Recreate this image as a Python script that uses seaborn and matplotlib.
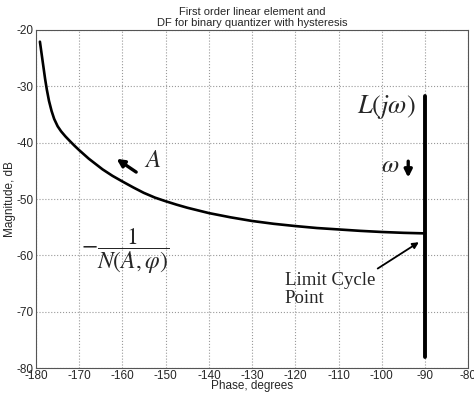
import numpy as np
import pandas as pd
import seaborn as sns
import matplotlib.pyplot as plt

# -1/N(A, phi) curve
df_phase = [-179.1, -178.7, -178.3, -177.9, -177.5, -177.0, -176.4, -175.8, -175.0,
            -174.2, -173.2, -172.2, -171.1, -170.0, -167.8, -164.6, -162.3, -160.0,
            -157.5, -155.1, -152.5, -150.0, -147.5, -145.0, -140.0, -135.0, -130.0,
            -125.0, -120.0, -115.0, -110.0, -105.0, -100.0, -95.0, -90.0]
df_mag = [-22.1, -24.3, -26.5, -28.7, -30.6, -32.6, -34.4, -35.8, -37.1,
          -38.0, -38.9, -39.7, -40.55, -41.35, -42.85, -44.75, -45.9, -46.9,
          -47.95, -48.9, -49.75, -50.4, -51.0, -51.55, -52.5, -53.25, -53.9,
          -54.4, -54.8, -55.15, -55.4, -55.65, -55.85, -56.0, -56.1]

# L(jw) of the first order element, phase stays at -90
lin_phase = [-90.0, -90.0]
lin_mag = [-31.7, -78.0]

xticks = list(range(-180, -79, 10))
yticks = list(range(-80, -19, 10))

curve_df = pd.DataFrame({'phase': df_phase, 'mag': df_mag})
lin_df = pd.DataFrame({'phase': lin_phase, 'mag': lin_mag})

sns.set_style('white')
plt.rcParams['font.family'] = ['Liberation Sans', 'DejaVu Sans']
plt.rcParams['mathtext.fontset'] = 'stix'
plt.rcParams['axes.unicode_minus'] = False

fig = plt.figure(figsize=(4.74, 3.98), dpi=100)
ax = fig.add_axes([0.076, 0.075, 0.912, 0.850])

sns.lineplot(data=curve_df, x='phase', y='mag', color='black', linewidth=1.9,
             sort=False, estimator=None, ax=ax)
sns.lineplot(data=lin_df, x='phase', y='mag', color='black', linewidth=2.8,
             sort=False, estimator=None, ax=ax)

ax.set_xlim(-180, -80)
ax.set_ylim(-80, -20)
ax.set_xticks(xticks)
ax.set_yticks(yticks)
ax.tick_params(direction='in', labelsize=8.5, length=3, color='#444444', pad=2)
ax.tick_params(axis='x', pad=1)
ax.grid(True, linestyle=':', color='#999999', linewidth=0.8)
for s in ax.spines.values():
    s.set_color('#555555')
    s.set_linewidth(0.8)

ax.set_xlabel('Phase, degrees', fontsize=8.5, labelpad=-1)
ax.set_ylabel('Magnitude, dB', fontsize=8.5, labelpad=0)
ax.set_title('First order linear element and\nDF for binary quantizer with hysteresis',
             fontsize=8, pad=3, linespacing=1.1)

# annotations
ax.text(-99.0, -33.6, r'$L\left(j\omega\right)$', fontsize=19, ha='center', va='center')
ax.text(-98.1, -43.9, r'$\omega$', fontsize=18, ha='center', va='center')
ax.annotate('', xy=(-93.9, -46.7), xytext=(-93.9, -42.8),
            arrowprops=dict(arrowstyle='-|>', color='black', lw=2.4, mutation_scale=11))
ax.text(-153.0, -43.0, r'$A$', fontsize=18, ha='center', va='center')
ax.annotate('', xy=(-161.9, -42.6), xytext=(-156.3, -45.5),
            arrowprops=dict(arrowstyle='-|>', color='black', lw=2.4, mutation_scale=11))
ax.text(-159.5, -59.2, r'$-\dfrac{1}{N\left(A,\varphi\right)}$', fontsize=17,
        ha='center', va='center')
ax.text(-122.5, -66.1, 'Limit Cycle\nPoint', fontsize=13.5, ha='left', va='center',
        family='Liberation Serif', linespacing=1.1)
ax.annotate('', xy=(-90.9, -57.4), xytext=(-101.5, -62.6),
            arrowprops=dict(arrowstyle='-|>', color='black', lw=1.3, mutation_scale=9))

fig.savefig('out.png', dpi=100)
